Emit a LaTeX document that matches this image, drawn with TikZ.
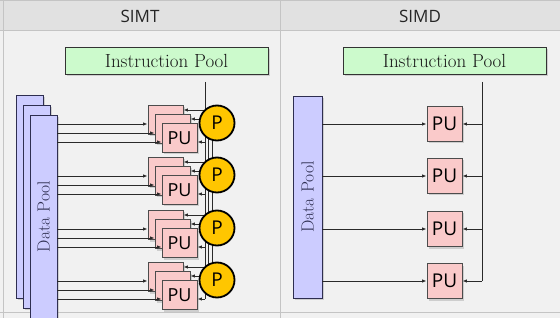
\documentclass[tikz,border=0pt]{standalone}
\usepackage{fontspec}
\newfontfamily\uifont{Open Sans}
\usetikzlibrary{positioning, arrows.meta, shadows}

\definecolor{headGray}{HTML}{E1E1E1}
\definecolor{panelGray}{HTML}{F1F1F1}
\definecolor{gridGray}{HTML}{C4C4C4}
\definecolor{instrGreen}{HTML}{CCFACC}
\definecolor{dataBlue}{HTML}{CCCCFF}
\definecolor{dataEdge}{HTML}{2E2E50}
\definecolor{puPink}{HTML}{FACACA}
\definecolor{procGold}{HTML}{FFC600}
\definecolor{lineDark}{HTML}{2A2A2A}

\begin{document}
\begin{tikzpicture}[
		x=1pt, y=-1pt,
		% Box styles
		box/.style={draw=black!80, line width=0.9pt, inner sep=0pt,
			drop shadow={shadow xshift=2pt, shadow yshift=-2pt, opacity=0.3}},
		instrBox/.style={box, fill=instrGreen, minimum width=203pt, minimum height=27pt,
			text=black!90, font=\fontsize{19}{21}\selectfont},
		dataBox/.style={box, fill=dataBlue, draw=dataEdge, minimum width=27pt, minimum height=203pt,
			text=dataEdge, font=\fontsize{17.5}{19}\selectfont},
		puBox/.style={box, fill=puPink, draw=black!70, minimum width=35pt, minimum height=29pt,
			text=black, font=\uifont\fontsize{18}{20}\selectfont},
		procCircle/.style={circle, draw=black, line width=1.8pt, fill=procGold, minimum size=35pt,
			inner sep=0pt, text=black, font=\uifont\fontsize{19}{21}\selectfont},
		headText/.style={text=black!85, font=\uifont\fontsize{17}{19}\selectfont},
		% Line styles
		gridLine/.style={draw=gridGray, line width=1pt},
		busLine/.style={draw=lineDark, line width=0.9pt},
		dataArrow/.style={-{Latex[length=4.5pt, width=3.5pt]}, draw=lineDark, line width=0.9pt}
		]
		
		\useasboundingbox (0,0) rectangle (560,318);
		\clip (0,0) rectangle (560,318);
		
		% =========================================================
		% TABLE FRAME
		% =========================================================
		\fill[headGray] (0,0) rectangle (560,31);
		\fill[panelGray] (0,31) rectangle (560,318);
		\draw[gridLine] (0,0.5) -- (560,0.5);
		\draw[gridLine] (0,31) -- (560,31);
		\draw[gridLine] (0,312) -- (560,312);
		\draw[gridLine] (3,0) -- (3,318);
		\draw[gridLine] (280,0) -- (280,318);
		
		\node[headText] (SimtHead) at (140,16) {SIMT};
		\node[headText] (SimdHead) at (420,16) {SIMD};
		
		% =========================================================
		% LEFT PANEL: SIMT
		% =========================================================
		\node[instrBox] (SimtInstr) at (166.5,60.5) {Instruction Pool};
		
		% Stacked data pools
		\node[dataBox] (SimtData1) at (29.5,196.5) {};
		\node[dataBox] (SimtData2) at (36.5,206.5) {};
		\node[dataBox] (SimtData3) at (43.5,216.5) {\rotatebox{90}{Data Pool}};
		
		% Stacked processing units, four groups
		\node[puBox] (SimtPUa1) at (165.5,120) {};
		\node[puBox] (SimtPUb1) at (172.5,129) {};
		\node[puBox] (SimtPUc1) at (179.5,138) {PU};
		
		\node[puBox] (SimtPUa2) at (165.5,172) {};
		\node[puBox] (SimtPUb2) at (172.5,181) {};
		\node[puBox] (SimtPUc2) at (179.5,190) {PU};
		
		\node[puBox] (SimtPUa3) at (165.5,225) {};
		\node[puBox] (SimtPUb3) at (172.5,234) {};
		\node[puBox] (SimtPUc3) at (179.5,243) {PU};
		
		\node[puBox] (SimtPUa4) at (165.5,277) {};
		\node[puBox] (SimtPUb4) at (172.5,286) {};
		\node[puBox] (SimtPUc4) at (179.5,295) {PU};
		
		% Data arrows
		\draw[dataArrow] ([yshift=-4pt]SimtPUa1.west -| SimtData3.east) -- ([yshift=-4pt]SimtPUa1.west);
		\draw[dataArrow] ([yshift=-4pt]SimtPUb1.west -| SimtData3.east) -- ([yshift=-4pt]SimtPUb1.west);
		\draw[dataArrow] ([yshift=-4pt]SimtPUc1.west -| SimtData3.east) -- ([yshift=-4pt]SimtPUc1.west);
		\draw[dataArrow] ([yshift=-4pt]SimtPUa2.west -| SimtData3.east) -- ([yshift=-4pt]SimtPUa2.west);
		\draw[dataArrow] ([yshift=-4pt]SimtPUb2.west -| SimtData3.east) -- ([yshift=-4pt]SimtPUb2.west);
		\draw[dataArrow] ([yshift=-4pt]SimtPUc2.west -| SimtData3.east) -- ([yshift=-4pt]SimtPUc2.west);
		\draw[dataArrow] ([yshift=-4pt]SimtPUa3.west -| SimtData3.east) -- ([yshift=-4pt]SimtPUa3.west);
		\draw[dataArrow] ([yshift=-4pt]SimtPUb3.west -| SimtData3.east) -- ([yshift=-4pt]SimtPUb3.west);
		\draw[dataArrow] ([yshift=-4pt]SimtPUc3.west -| SimtData3.east) -- ([yshift=-4pt]SimtPUc3.west);
		\draw[dataArrow] ([yshift=-4pt]SimtPUa4.west -| SimtData3.east) -- ([yshift=-4pt]SimtPUa4.west);
		\draw[dataArrow] ([yshift=-4pt]SimtPUb4.west -| SimtData3.east) -- ([yshift=-4pt]SimtPUb4.west);
		\draw[dataArrow] ([yshift=-4pt]SimtPUc4.west -| SimtData3.east) -- ([yshift=-4pt]SimtPUc4.west);
		
		% Instruction bus
		\coordinate (SimtBus) at (205,82);
		\draw[busLine] (SimtBus) -- ([yshift=-4pt]SimtPUc4.east -| SimtBus);
		\draw[busLine] ([xshift=3pt]SimtBus |- SimtPUa1) -- ([xshift=3pt]SimtBus |- SimtPUa2);
		\draw[busLine] ([xshift=7pt]SimtBus |- SimtPUa1) -- ([xshift=7pt]SimtBus |- SimtPUa2);
		\draw[busLine] ([xshift=3pt]SimtBus |- SimtPUa2) -- ([xshift=3pt]SimtBus |- SimtPUa3);
		\draw[busLine] ([xshift=7pt]SimtBus |- SimtPUa2) -- ([xshift=7pt]SimtBus |- SimtPUa3);
		\draw[busLine] ([xshift=3pt]SimtBus |- SimtPUa3) -- ([xshift=3pt]SimtBus |- SimtPUa4);
		\draw[busLine] ([xshift=7pt]SimtBus |- SimtPUa3) -- ([xshift=7pt]SimtBus |- SimtPUa4);
		
		% Instruction arrows into the units
		\draw[dataArrow] ([yshift=10pt]SimtPUa1.east -| SimtBus) -- ([yshift=10pt]SimtPUa1.east);
		\draw[dataArrow] ([yshift=10pt]SimtPUb1.east -| SimtBus) -- ([yshift=10pt]SimtPUb1.east);
		\draw[dataArrow] ([yshift=-4pt]SimtPUc1.east -| SimtBus) -- ([yshift=-4pt]SimtPUc1.east);
		\draw[dataArrow] ([yshift=10pt]SimtPUa2.east -| SimtBus) -- ([yshift=10pt]SimtPUa2.east);
		\draw[dataArrow] ([yshift=10pt]SimtPUb2.east -| SimtBus) -- ([yshift=10pt]SimtPUb2.east);
		\draw[dataArrow] ([yshift=-4pt]SimtPUc2.east -| SimtBus) -- ([yshift=-4pt]SimtPUc2.east);
		\draw[dataArrow] ([yshift=10pt]SimtPUa3.east -| SimtBus) -- ([yshift=10pt]SimtPUa3.east);
		\draw[dataArrow] ([yshift=10pt]SimtPUb3.east -| SimtBus) -- ([yshift=10pt]SimtPUb3.east);
		\draw[dataArrow] ([yshift=-4pt]SimtPUc3.east -| SimtBus) -- ([yshift=-4pt]SimtPUc3.east);
		\draw[dataArrow] ([yshift=10pt]SimtPUa4.east -| SimtBus) -- ([yshift=10pt]SimtPUa4.east);
		\draw[dataArrow] ([yshift=10pt]SimtPUb4.east -| SimtBus) -- ([yshift=10pt]SimtPUb4.east);
		\draw[dataArrow] ([yshift=-4pt]SimtPUc4.east -| SimtBus) -- ([yshift=-4pt]SimtPUc4.east);
		
		% Processors
		\node[procCircle] (SimtP1) at (217,123) {P};
		\node[procCircle] (SimtP2) at (217,175) {P};
		\node[procCircle] (SimtP3) at (217,228) {P};
		\node[procCircle] (SimtP4) at (217,280) {P};
		
		% =========================================================
		% RIGHT PANEL: SIMD
		% =========================================================
		\node[instrBox] (SimdInstr) at (444.5,60.5) {Instruction Pool};
		\node[dataBox, minimum width=29pt, minimum height=202pt] (SimdData) at (307.5,197) {\rotatebox{90}{Data Pool}};
		
		\node[puBox, minimum height=35pt, font=\uifont\fontsize{19}{21}\selectfont] (SimdPU1) at (444.5,124) {PU};
		\node[puBox, minimum height=35pt, font=\uifont\fontsize{19}{21}\selectfont] (SimdPU2) at (444.5,176) {PU};
		\node[puBox, minimum height=35pt, font=\uifont\fontsize{19}{21}\selectfont] (SimdPU3) at (444.5,229) {PU};
		\node[puBox, minimum height=35pt, font=\uifont\fontsize{19}{21}\selectfont] (SimdPU4) at (444.5,281) {PU};
		
		% Data arrows
		\draw[dataArrow] (SimdData.east |- SimdPU1.west) -- (SimdPU1.west);
		\draw[dataArrow] (SimdData.east |- SimdPU2.west) -- (SimdPU2.west);
		\draw[dataArrow] (SimdData.east |- SimdPU3.west) -- (SimdPU3.west);
		\draw[dataArrow] (SimdData.east |- SimdPU4.west) -- (SimdPU4.west);
		
		% Instruction bus
		\coordinate (SimdBus) at (482,82);
		\draw[busLine] (SimdBus) -- (SimdBus |- SimdPU4.east);
		\draw[dataArrow] (SimdBus |- SimdPU1.east) -- (SimdPU1.east);
		\draw[dataArrow] (SimdBus |- SimdPU2.east) -- (SimdPU2.east);
		\draw[dataArrow] (SimdBus |- SimdPU3.east) -- (SimdPU3.east);
		\draw[dataArrow] (SimdBus |- SimdPU4.east) -- (SimdPU4.east);
		
	\end{tikzpicture}
\end{document}
